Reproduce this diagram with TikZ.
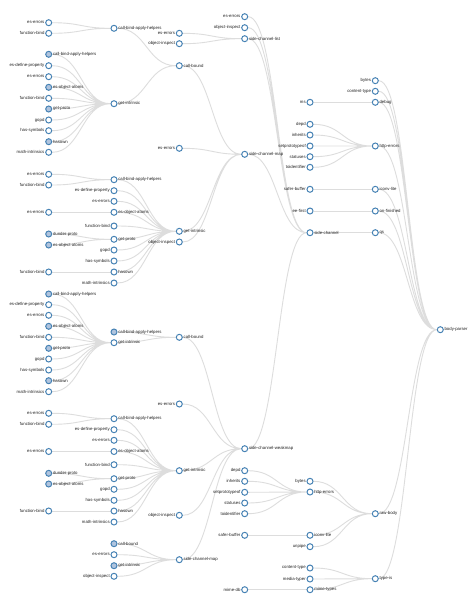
\documentclass[tikz,border=0pt]{standalone}
\usepackage{fontspec}
\setmainfont{Liberation Sans}
\definecolor{steelBlue}{HTML}{4682B4}
\definecolor{lightSteel}{HTML}{B0C4DE}
\definecolor{linkGray}{HTML}{DDDDDD}
\definecolor{labelDark}{HTML}{222222}
\usetikzlibrary{backgrounds}

\begin{document}
\begin{tikzpicture}[
    x=1pt, y=-1pt,
    pkg/.style={circle, draw=steelBlue, line width=1pt, fill=white, minimum size=6pt, inner sep=0pt},
    seen/.style={pkg, fill=lightSteel},
    tag/.style={font=\fontsize{4.3}{5}\selectfont, text=labelDark, inner sep=0.6pt},
    ltag/.style={label={[tag]left:#1}},
    rtag/.style={label={[tag]right:#1}},
    link/.style={draw=linkGray, line width=0.9pt, out=0, in=180, distance=29pt}
  ]
    \useasboundingbox (0,0) rectangle (474,603);
    % root and its direct dependencies
    \node[pkg, rtag=body-parser] (bodyParser) at (440.3,329.7) {};
    \node[pkg, ltag=bytes] (bytes) at (375.3,80.7) {};
    \node[pkg, ltag=content-type] (contentType) at (375.3,91.3) {};
    \node[pkg, rtag=debug] (debug) at (375.3,102.3) {};
    \node[pkg, rtag=http-errors] (httpErrors) at (375.3,146) {};
    \node[pkg, rtag=iconv-lite] (iconvLite) at (375.3,189.3) {};
    \node[pkg, rtag=on-finished] (onFinished) at (375.3,211) {};
    \node[pkg, rtag=qs] (qs) at (375.3,232.7) {};
    \node[pkg, rtag=raw-body] (rawBody) at (375.3,513.7) {};
    \node[pkg, rtag=type-is] (typeIs) at (375.3,578.7) {};
    % fourth column
    \node[pkg, ltag=ms] (ms) at (310,102.3) {};
    \node[pkg, ltag=depd] (heDepd) at (310,124.3) {};
    \node[pkg, ltag=inherits] (heInherits) at (310,135) {};
    \node[pkg, ltag=setprototypeof] (heSetproto) at (310,146) {};
    \node[pkg, ltag=statuses] (heStatuses) at (310,156.7) {};
    \node[pkg, ltag=toidentifier] (heToid) at (310,167.3) {};
    \node[pkg, ltag=safer-buffer] (ilSafer) at (310,189.3) {};
    \node[pkg, ltag=ee-first] (eeFirst) at (310,211) {};
    \node[pkg, rtag=side-channel] (sideChannel) at (310,232.7) {};
    \node[pkg, ltag=bytes] (rbBytes) at (310,481.3) {};
    \node[pkg, rtag=http-errors] (rbHttpErrors) at (310,492) {};
    \node[pkg, rtag=iconv-lite] (rbIconv) at (310,535.3) {};
    \node[pkg, ltag=unpipe] (rbUnpipe) at (310,546.7) {};
    \node[pkg, ltag=content-type] (tiContentType) at (310,568) {};
    \node[pkg, ltag=media-typer] (tiMediaTyper) at (310,579) {};
    \node[pkg, rtag=mime-types] (tiMimeTypes) at (310,589.7) {};
    % third column
    \node[pkg, ltag=es-errors] (scEsErrors) at (244.7,16.7) {};
    \node[pkg, ltag=object-inspect] (scObjInspect) at (244.7,27.7) {};
    \node[pkg, rtag=side-channel-list] (scList) at (244.7,38.7) {};
    \node[pkg, rtag=side-channel-map] (scMap) at (244.7,154.3) {};
    \node[pkg, rtag=side-channel-weakmap] (scWeakmap) at (244.7,448.7) {};
    \node[pkg, ltag=depd] (rbDepd) at (244.7,470.7) {};
    \node[pkg, ltag=inherits] (rbInherits) at (244.7,481.3) {};
    \node[pkg, ltag=setprototypeof] (rbSetproto) at (244.7,492.3) {};
    \node[pkg, ltag=statuses] (rbStatuses) at (244.7,503) {};
    \node[pkg, ltag=toidentifier] (rbToid) at (244.7,513.7) {};
    \node[pkg, ltag=safer-buffer] (rbSafer) at (244.7,535.3) {};
    \node[pkg, ltag=mime-db] (mimeDb) at (244.7,589.7) {};
    % second column
    \node[pkg, ltag=es-errors] (slEsErrors) at (179.3,33.3) {};
    \node[pkg, ltag=object-inspect] (slObjInspect) at (179.3,43.7) {};
    \node[pkg, rtag=call-bound] (smCallBound) at (179.3,65.7) {};
    \node[pkg, ltag=es-errors] (smEsErrors) at (179.3,148.3) {};
    \node[pkg, rtag=get-intrinsic] (smGetIntr) at (179.3,231.3) {};
    \node[pkg, ltag=object-inspect] (smObjInspect) at (179.3,242) {};
    \node[pkg, rtag=call-bound] (swCallBound) at (179.3,337.3) {};
    \node[pkg, ltag=es-errors] (swEsErrors) at (179.3,404) {};
    \node[pkg, rtag=get-intrinsic] (swGetIntr) at (179.3,470.7) {};
    \node[pkg, ltag=object-inspect] (swObjInspect) at (179.3,515.3) {};
    \node[pkg, rtag=side-channel-map] (swMap) at (179.3,559.7) {};
    % first column
    \node[pkg, rtag=call-bind-apply-helpers] (aCbah) at (114,28.3) {};
    \node[pkg, rtag=get-intrinsic] (aGetIntr) at (114,103.7) {};
    \node[pkg, rtag=call-bind-apply-helpers] (bCbah) at (114,179.7) {};
    \node[pkg, ltag=es-define-property] (bEsDefProp) at (114,190.7) {};
    \node[pkg, ltag=es-errors] (bEsErrors) at (114,201.3) {};
    \node[pkg, rtag=es-object-atoms] (bEsObjAtoms) at (114,212.3) {};
    \node[pkg, ltag=function-bind] (bFuncBind) at (114,226) {};
    \node[pkg, rtag=get-proto] (bGetProto) at (114,239.3) {};
    \node[pkg, ltag=gopd] (bGopd) at (114,250) {};
    \node[pkg, ltag=has-symbols] (bHasSym) at (114,261) {};
    \node[pkg, rtag=hasown] (bHasown) at (114,272) {};
    \node[pkg, ltag=math-intrinsics] (bMathIntr) at (114,283) {};
    \node[seen, rtag=call-bind-apply-helpers] (cCbah) at (114,332) {};
    \node[pkg, rtag=get-intrinsic] (cGetIntr) at (114,342.7) {};
    \node[pkg, rtag=call-bind-apply-helpers] (dCbah) at (114,418.7) {};
    \node[pkg, ltag=es-define-property] (dEsDefProp) at (114,429.7) {};
    \node[pkg, ltag=es-errors] (dEsErrors) at (114,440.3) {};
    \node[pkg, rtag=es-object-atoms] (dEsObjAtoms) at (114,451.5) {};
    \node[pkg, ltag=function-bind] (dFuncBind) at (114,464.7) {};
    \node[pkg, rtag=get-proto] (dGetProto) at (114,478.7) {};
    \node[pkg, ltag=gopd] (dGopd) at (114,489.3) {};
    \node[pkg, ltag=has-symbols] (dHasSym) at (114,500.3) {};
    \node[pkg, rtag=hasown] (dHasown) at (114,511) {};
    \node[pkg, ltag=math-intrinsics] (dMathIntr) at (114,522) {};
    \node[seen, rtag=call-bound] (eCallBound) at (114,543.7) {};
    \node[pkg, ltag=es-errors] (eEsErrors) at (114,554.7) {};
    \node[seen, rtag=get-intrinsic] (eGetIntr) at (114,565.7) {};
    \node[pkg, ltag=object-inspect] (eObjInspect) at (114,576.3) {};
    % leaves on the far left
    \node[pkg, ltag=es-errors] (a0EsErrors) at (48.7,22.7) {};
    \node[pkg, ltag=function-bind] (a0FuncBind) at (48.7,33.3) {};
    \node[seen, rtag=call-bind-apply-helpers] (agCbah) at (48.7,54.3) {};
    \node[pkg, ltag=es-define-property] (agEsDefProp) at (48.7,65.7) {};
    \node[pkg, ltag=es-errors] (agEsErrors) at (48.7,76.7) {};
    \node[seen, rtag=es-object-atoms] (agEsObjAtoms) at (48.7,87.3) {};
    \node[pkg, ltag=function-bind] (agFuncBind) at (48.7,98.3) {};
    \node[seen, rtag=get-proto] (agGetProto) at (48.7,109) {};
    \node[pkg, ltag=gopd] (agGopd) at (48.7,120) {};
    \node[pkg, ltag=has-symbols] (agHasSym) at (48.7,130.7) {};
    \node[seen, rtag=hasown] (agHasown) at (48.7,141.7) {};
    \node[pkg, ltag=math-intrinsics] (agMathIntr) at (48.7,152.3) {};
    \node[pkg, ltag=es-errors] (b0EsErrors) at (48.7,174.3) {};
    \node[pkg, ltag=function-bind] (b0FuncBind) at (48.7,185) {};
    \node[pkg, ltag=es-errors] (b0EoaErrors) at (48.7,212.3) {};
    \node[seen, rtag=dunder-proto] (b0Dunder) at (48.7,234) {};
    \node[seen, rtag=es-object-atoms] (b0EsObjAtoms) at (48.7,245) {};
    \node[pkg, ltag=function-bind] (b0HoFuncBind) at (48.7,272) {};
    \node[seen, rtag=call-bind-apply-helpers] (cgCbah) at (48.7,294) {};
    \node[pkg, ltag=es-define-property] (cgEsDefProp) at (48.7,304.7) {};
    \node[pkg, ltag=es-errors] (cgEsErrors) at (48.7,315.3) {};
    \node[seen, rtag=es-object-atoms] (cgEsObjAtoms) at (48.7,326.3) {};
    \node[pkg, ltag=function-bind] (cgFuncBind) at (48.7,337.3) {};
    \node[seen, rtag=get-proto] (cgGetProto) at (48.7,348.3) {};
    \node[pkg, ltag=gopd] (cgGopd) at (48.7,359) {};
    \node[pkg, ltag=has-symbols] (cgHasSym) at (48.7,370) {};
    \node[seen, rtag=hasown] (cgHasown) at (48.7,380.7) {};
    \node[pkg, ltag=math-intrinsics] (cgMathIntr) at (48.7,391.7) {};
    \node[pkg, ltag=es-errors] (d0EsErrors) at (48.7,413.3) {};
    \node[pkg, ltag=function-bind] (d0FuncBind) at (48.7,424.3) {};
    \node[pkg, ltag=es-errors] (d0EoaErrors) at (48.7,451.5) {};
    \node[seen, rtag=dunder-proto] (d0Dunder) at (48.7,473.3) {};
    \node[seen, rtag=es-object-atoms] (d0EsObjAtoms) at (48.7,484) {};
    \node[pkg, ltag=function-bind] (d0HoFuncBind) at (48.7,511) {};
    % links, behind everything
    \begin{scope}[on background layer]
      \fill[white] (0,0) rectangle (474,603);
      \draw[link] (bytes) to (bodyParser) (contentType) to (bodyParser) (debug) to (bodyParser)
        (httpErrors) to (bodyParser) (iconvLite) to (bodyParser) (onFinished) to (bodyParser)
        (qs) to (bodyParser) (rawBody) to (bodyParser) (typeIs) to (bodyParser);
      \draw[link] (ms) to (debug);
      \draw[link] (heDepd) to (httpErrors) (heInherits) to (httpErrors) (heSetproto) to (httpErrors)
        (heStatuses) to (httpErrors) (heToid) to (httpErrors);
      \draw[link] (ilSafer) to (iconvLite);
      \draw[link] (eeFirst) to (onFinished);
      \draw[link] (sideChannel) to (qs);
      \draw[link] (rbBytes) to (rawBody) (rbHttpErrors) to (rawBody) (rbIconv) to (rawBody) (rbUnpipe) to (rawBody);
      \draw[link] (tiContentType) to (typeIs) (tiMediaTyper) to (typeIs) (tiMimeTypes) to (typeIs);
      \draw[link] (scEsErrors) to (sideChannel) (scObjInspect) to (sideChannel) (scList) to (sideChannel)
        (scMap) to (sideChannel) (scWeakmap) to (sideChannel);
      \draw[link] (rbDepd) to (rbHttpErrors) (rbInherits) to (rbHttpErrors) (rbSetproto) to (rbHttpErrors)
        (rbStatuses) to (rbHttpErrors) (rbToid) to (rbHttpErrors);
      \draw[link] (rbSafer) to (rbIconv);
      \draw[link] (mimeDb) to (tiMimeTypes);
      \draw[link] (slEsErrors) to (scList) (slObjInspect) to (scList);
      \draw[link] (smCallBound) to (scMap) (smEsErrors) to (scMap) (smGetIntr) to (scMap) (smObjInspect) to (scMap);
      \draw[link] (swCallBound) to (scWeakmap) (swEsErrors) to (scWeakmap) (swGetIntr) to (scWeakmap)
        (swObjInspect) to (scWeakmap) (swMap) to (scWeakmap);
      \draw[link] (aCbah) to (smCallBound) (aGetIntr) to (smCallBound);
      \draw[link] (bCbah) to (smGetIntr) (bEsDefProp) to (smGetIntr) (bEsErrors) to (smGetIntr)
        (bEsObjAtoms) to (smGetIntr) (bFuncBind) to (smGetIntr) (bGetProto) to (smGetIntr)
        (bGopd) to (smGetIntr) (bHasSym) to (smGetIntr) (bHasown) to (smGetIntr) (bMathIntr) to (smGetIntr);
      \draw[link] (cCbah) to (swCallBound) (cGetIntr) to (swCallBound);
      \draw[link] (dCbah) to (swGetIntr) (dEsDefProp) to (swGetIntr) (dEsErrors) to (swGetIntr)
        (dEsObjAtoms) to (swGetIntr) (dFuncBind) to (swGetIntr) (dGetProto) to (swGetIntr)
        (dGopd) to (swGetIntr) (dHasSym) to (swGetIntr) (dHasown) to (swGetIntr) (dMathIntr) to (swGetIntr);
      \draw[link] (eCallBound) to (swMap) (eEsErrors) to (swMap) (eGetIntr) to (swMap) (eObjInspect) to (swMap);
      \draw[link] (a0EsErrors) to (aCbah) (a0FuncBind) to (aCbah);
      \draw[link] (agCbah) to (aGetIntr) (agEsDefProp) to (aGetIntr) (agEsErrors) to (aGetIntr)
        (agEsObjAtoms) to (aGetIntr) (agFuncBind) to (aGetIntr) (agGetProto) to (aGetIntr)
        (agGopd) to (aGetIntr) (agHasSym) to (aGetIntr) (agHasown) to (aGetIntr) (agMathIntr) to (aGetIntr);
      \draw[link] (b0EsErrors) to (bCbah) (b0FuncBind) to (bCbah);
      \draw[link] (b0EoaErrors) to (bEsObjAtoms);
      \draw[link] (b0Dunder) to (bGetProto) (b0EsObjAtoms) to (bGetProto);
      \draw[link] (b0HoFuncBind) to (bHasown);
      \draw[link] (cgCbah) to (cGetIntr) (cgEsDefProp) to (cGetIntr) (cgEsErrors) to (cGetIntr)
        (cgEsObjAtoms) to (cGetIntr) (cgFuncBind) to (cGetIntr) (cgGetProto) to (cGetIntr)
        (cgGopd) to (cGetIntr) (cgHasSym) to (cGetIntr) (cgHasown) to (cGetIntr) (cgMathIntr) to (cGetIntr);
      \draw[link] (d0EsErrors) to (dCbah) (d0FuncBind) to (dCbah);
      \draw[link] (d0EoaErrors) to (dEsObjAtoms);
      \draw[link] (d0Dunder) to (dGetProto) (d0EsObjAtoms) to (dGetProto);
      \draw[link] (d0HoFuncBind) to (dHasown);
    \end{scope}
  \end{tikzpicture}
\end{document}
